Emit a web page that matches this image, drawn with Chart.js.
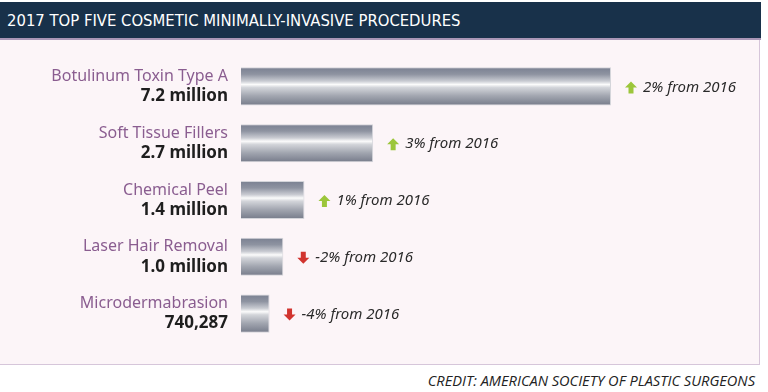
<!DOCTYPE html>
<html>
<head>
<meta charset="utf-8">
<script src="https://cdn.jsdelivr.net/npm/chart.js@4"></script>
<style>
  html, body { margin: 0; padding: 0; background: #ffffff; width: 768px; height: 392px; overflow: hidden; }
  #header { position: absolute; left: 0; top: 2px; width: 761px; height: 36px; background: #18314a; border-bottom: 2px solid #a996b6; }
  #title { position: absolute; left: 7px; top: 9px; color: #ffffff; font-family: "DejaVu Sans Condensed", "DejaVu Sans", sans-serif; font-size: 16.5px; white-space: nowrap; }
  #panel { position: absolute; left: 0; top: 40px; width: 759px; height: 324px; background: #fcf5f8; border-right: 1px solid #d6c6da; border-bottom: 1px solid #d6c6da; }
  #credit { position: absolute; right: 13px; top: 370px; font-family: "Open Sans", sans-serif; font-style: italic; font-size: 14.6px; color: #222222; white-space: nowrap; }
  #chart { position: absolute; left: 0; top: 0; }
</style>
</head>
<body>
<div id="header"><div id="title">2017 TOP FIVE COSMETIC MINIMALLY-INVASIVE PROCEDURES</div></div>
<div id="panel"></div>
<div id="credit">CREDIT: AMERICAN SOCIETY OF PLASTIC SURGEONS</div>
<canvas id="chart" width="768" height="392"></canvas>
<script>
const categories = ['Botulinum Toxin Type A', 'Soft Tissue Fillers', 'Chemical Peel', 'Laser Hair Removal', 'Microdermabrasion'];
const valueLabels = ['7.2 million', '2.7 million', '1.4 million', '1.0 million', '740,287'];
const proceduresMillions = [7.2, 2.7, 1.4, 1.0, 0.740287];
const changePercent = [2, 3, 1, -2, -4];
const changeLabels = ['2% from 2016', '3% from 2016', '1% from 2016', '-2% from 2016', '-4% from 2016'];

function barGradient(context) {
  const chart = context.chart;
  const yScale = chart.scales.y;
  if (!chart.chartArea || !yScale) return '#9a9eaa';
  const yc = yScale.getPixelForValue(context.dataIndex);
  const half = 19;
  const g = chart.ctx.createLinearGradient(0, yc - half, 0, yc + half);
  g.addColorStop(0.00, '#7a8091');
  g.addColorStop(0.18, '#8e93a1');
  g.addColorStop(0.36, '#c9cbd2');
  g.addColorStop(0.45, '#fbfbfb');
  g.addColorStop(0.53, '#d3d5da');
  g.addColorStop(0.75, '#a2a6b0');
  g.addColorStop(1.00, '#767b8a');
  return g;
}

const labelPlugin = {
  id: 'sideLabels',
  afterDatasetsDraw(chart) {
    const ctx = chart.ctx;
    const yScale = chart.scales.y;
    const meta = chart.getDatasetMeta(0);
    const left = chart.chartArea.left;
    ctx.save();
    categories.forEach((name, i) => {
      const y = yScale.getPixelForValue(i);
      ctx.textAlign = 'right';
      ctx.textBaseline = 'middle';
      ctx.fillStyle = '#8a5d90';
      ctx.font = '16px "Noto Sans", sans-serif';
      ctx.fillText(name, left - 13, y - 10);
      ctx.fillStyle = '#1e1e1e';
      ctx.font = 'bold 17px "Noto Sans", sans-serif';
      ctx.fillText(valueLabels[i], left - 13, y + 10);

      const bar = meta.data[i];
      const ax = bar.x + 20;
      const ay = y + 1;
      const up = changePercent[i] >= 0;
      ctx.fillStyle = up ? '#9cc63b' : '#d1342f';
      ctx.beginPath();
      if (up) {
        ctx.moveTo(ax - 6, ay);
        ctx.lineTo(ax, ay - 6);
        ctx.lineTo(ax + 6, ay);
        ctx.lineTo(ax + 2.5, ay);
        ctx.lineTo(ax + 2.5, ay + 6);
        ctx.lineTo(ax - 2.5, ay + 6);
        ctx.lineTo(ax - 2.5, ay);
      } else {
        ctx.moveTo(ax - 2.5, ay - 6);
        ctx.lineTo(ax + 2.5, ay - 6);
        ctx.lineTo(ax + 2.5, ay);
        ctx.lineTo(ax + 6, ay);
        ctx.lineTo(ax, ay + 6);
        ctx.lineTo(ax - 6, ay);
        ctx.lineTo(ax - 2.5, ay);
      }
      ctx.closePath();
      ctx.fill();

      ctx.textAlign = 'left';
      ctx.fillStyle = '#2a2a2a';
      ctx.font = 'italic 15px "Noto Sans", sans-serif';
      ctx.fillText(changeLabels[i], ax + 12, ay);
    });
    ctx.restore();
  }
};

new Chart(document.getElementById('chart'), {
  type: 'bar',
  data: {
    labels: categories,
    datasets: [{
      data: proceduresMillions,
      backgroundColor: barGradient,
      borderColor: '#d4d5da',
      borderWidth: 1,
      borderSkipped: false,
      barPercentage: 0.67,
      categoryPercentage: 1
    }]
  },
  options: {
    indexAxis: 'y',
    responsive: false,
    devicePixelRatio: 1,
    animation: false,
    layout: { padding: { left: 241, right: 157, top: 58, bottom: 50 } },
    scales: {
      x: { display: false, min: 0.2, max: 7.2 },
      y: { display: false }
    },
    plugins: { legend: { display: false }, tooltip: { enabled: false }, title: { display: false } }
  },
  plugins: [labelPlugin]
});
</script>
</body>
</html>
